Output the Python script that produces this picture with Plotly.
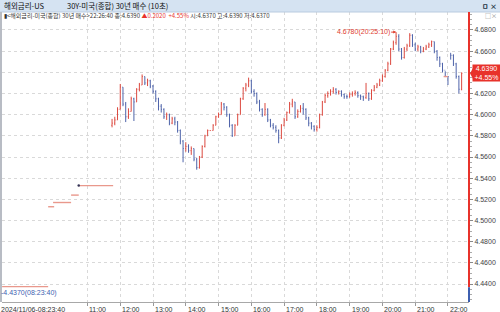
import plotly.graph_objects as go
import pandas as pd

# ---------------- data ----------------
bar_start = "2024-11-06 11:45"          # first 5-minute bar of the main session
closes = [4.592, 4.595, 4.605, 4.626, 4.610, 4.598, 4.603, 4.615, 4.612, 4.624,
          4.628, 4.636, 4.630, 4.632, 4.627, 4.622, 4.615, 4.608, 4.605, 4.598,
          4.600, 4.592, 4.596, 4.593, 4.585, 4.575, 4.568, 4.570, 4.566, 4.568,
          4.558, 4.550, 4.560, 4.570, 4.580, 4.585, 4.585, 4.590, 4.598, 4.600,
          4.610, 4.607, 4.600, 4.590, 4.580, 4.590, 4.600, 4.615, 4.625, 4.628,
          4.632, 4.622, 4.620, 4.612, 4.605, 4.600, 4.605, 4.595, 4.590, 4.588,
          4.585, 4.578, 4.590, 4.595, 4.602, 4.610, 4.612, 4.598, 4.603, 4.606,
          4.605, 4.597, 4.592, 4.589, 4.586, 4.588, 4.600, 4.612, 4.618, 4.620,
          4.622, 4.624, 4.621, 4.622, 4.619, 4.617, 4.617, 4.619, 4.620, 4.621,
          4.618, 4.617, 4.616, 4.620, 4.615, 4.623, 4.626, 4.628, 4.632, 4.636,
          4.642, 4.648, 4.662, 4.668, 4.674, 4.662, 4.654, 4.662, 4.665, 4.675,
          4.666, 4.662, 4.664, 4.660, 4.662, 4.664, 4.666, 4.669, 4.660, 4.654,
          4.648, 4.642, 4.636, 4.636, 4.656, 4.648, 4.636, 4.624, 4.639]
highs = [4.596, 4.598, 4.607, 4.629, 4.626, 4.612, 4.606, 4.617, 4.616, 4.625,
         4.630, 4.638, 4.636, 4.634, 4.633, 4.628, 4.623, 4.616, 4.610, 4.606,
         4.602, 4.601, 4.598, 4.598, 4.594, 4.586, 4.576, 4.574, 4.572, 4.570,
         4.568, 4.559, 4.561, 4.571, 4.581, 4.586, 4.585, 4.591, 4.599, 4.602,
         4.612, 4.611, 4.608, 4.601, 4.591, 4.591, 4.601, 4.616, 4.626, 4.630,
         4.635, 4.633, 4.624, 4.621, 4.614, 4.606, 4.611, 4.606, 4.596, 4.592,
         4.590, 4.586, 4.591, 4.597, 4.603, 4.612, 4.615, 4.612, 4.605, 4.609,
         4.611, 4.606, 4.598, 4.593, 4.590, 4.590, 4.601, 4.613, 4.620, 4.622,
         4.624, 4.626, 4.625, 4.623, 4.623, 4.620, 4.619, 4.621, 4.622, 4.623,
         4.622, 4.619, 4.618, 4.630, 4.621, 4.624, 4.628, 4.630, 4.634, 4.638,
         4.643, 4.650, 4.663, 4.670, 4.678, 4.676, 4.663, 4.664, 4.667, 4.677,
         4.676, 4.668, 4.666, 4.665, 4.664, 4.666, 4.668, 4.670, 4.669, 4.661,
         4.655, 4.649, 4.641, 4.636, 4.658, 4.657, 4.649, 4.637, 4.640]
lows = [4.588, 4.590, 4.595, 4.605, 4.608, 4.593, 4.596, 4.603, 4.594, 4.612,
        4.622, 4.628, 4.628, 4.627, 4.625, 4.620, 4.612, 4.604, 4.602, 4.596,
        4.595, 4.590, 4.591, 4.590, 4.583, 4.572, 4.555, 4.565, 4.564, 4.562,
        4.556, 4.548, 4.549, 4.559, 4.569, 4.580, 4.585, 4.585, 4.590, 4.597,
        4.600, 4.604, 4.598, 4.588, 4.579, 4.580, 4.590, 4.600, 4.614, 4.622,
        4.626, 4.620, 4.617, 4.610, 4.603, 4.598, 4.599, 4.593, 4.588, 4.586,
        4.583, 4.573, 4.577, 4.589, 4.594, 4.601, 4.607, 4.596, 4.597, 4.602,
        4.600, 4.595, 4.589, 4.586, 4.584, 4.584, 4.587, 4.599, 4.611, 4.616,
        4.618, 4.620, 4.619, 4.619, 4.617, 4.615, 4.615, 4.616, 4.617, 4.618,
        4.616, 4.614, 4.613, 4.615, 4.613, 4.614, 4.622, 4.625, 4.627, 4.631,
        4.635, 4.641, 4.647, 4.661, 4.666, 4.660, 4.652, 4.653, 4.660, 4.664,
        4.664, 4.660, 4.660, 4.658, 4.659, 4.661, 4.663, 4.664, 4.658, 4.651,
        4.645, 4.640, 4.636, 4.628, 4.652, 4.646, 4.634, 4.620, 4.623]
first_open = 4.590
reopen_index = 124        # bar after the 22:00 break opens fresh
reopen_value = 4.658

# sparse early prints (flat segments) and the 22:00 break
flat_start = ["2024-11-06 08:23:40", "2024-11-06 09:48", "2024-11-06 09:57",
              "2024-11-06 10:30", "2024-11-06 10:44", "2024-11-06 21:52"]
flat_end = ["2024-11-06 09:48", "2024-11-06 09:59", "2024-11-06 10:30",
            "2024-11-06 10:44", "2024-11-06 11:47", "2024-11-06 22:00"]
flat_val = [4.4375, 4.513, 4.517, 4.524, 4.533, 4.636]

hour_ticks = ["2024-11-06 %02d:00" % h for h in range(11, 23)]
hour_labels = ["%02d:00" % h for h in range(11, 23)]
y_ticks = [4.44, 4.46, 4.48, 4.50, 4.52, 4.54, 4.56, 4.58, 4.60, 4.62, 4.64, 4.66, 4.68]
y_hidden_label = 4.64      # covered by the current-price box

last_price = 4.6390
day_high, day_high_time = 4.6780, "2024-11-06 20:25:10"
day_low, day_low_time = 4.4370, "2024-11-06 08:23:40"

x_range = ["2024-11-06 08:23:30", "2024-11-06 22:38:30"]
y_range = [4.423, 4.697]

# ---------------- figure ----------------
times = pd.date_range(bar_start, periods=len(closes), freq="5min")
opens = [first_open] + closes[:-1]
opens[reopen_index] = reopen_value

RED = "#dc4a40"
BLUE = "#4f64aa"
FONT = "Liberation Sans, Noto Sans CJK KR, sans-serif"
KFONT = "Noto Sans CJK KR, sans-serif"

fig = go.Figure()

fx, fy = [], []
for s, e, v in zip(flat_start, flat_end, flat_val):
    fx += [s, e, None]
    fy += [v, v, None]
fig.add_trace(go.Scatter(x=fx, y=fy, mode="lines", line=dict(color="#e9988c", width=1.4),
                         hoverinfo="skip", showlegend=False, cliponaxis=False))
fig.add_trace(go.Scatter(x=[flat_start[4]], y=[flat_val[4]], mode="markers",
                         marker=dict(color="#333355", size=2.5), hoverinfo="skip", showlegend=False))

fig.add_trace(go.Ohlc(
    x=times, open=opens, high=highs, low=lows, close=closes,
    increasing=dict(line=dict(color=RED, width=1)),
    decreasing=dict(line=dict(color=BLUE, width=1)),
    tickwidth=0.25, showlegend=False, hoverinfo="skip"))

W_PLOT = 467.0
H_PLOT = 290.0

shapes = [
    # header bar
    dict(type="rect", xref="paper", yref="paper", x0=-2 / W_PLOT, x1=498 / W_PLOT,
         y0=1.0, y1=1 + 12 / H_PLOT, fillcolor="#d5e3f2", line=dict(width=0), layer="above"),
    dict(type="line", xref="paper", yref="paper", x0=-2 / W_PLOT, x1=498 / W_PLOT,
         y0=1.0, y1=1.0, line=dict(color="#b9cbe0", width=1)),
    # left border
    dict(type="line", xref="paper", yref="paper", x0=-1 / W_PLOT, x1=-1 / W_PLOT,
         y0=0, y1=1, line=dict(color="#b8bcc4", width=2)),
    # red / blue right-edge range line
    dict(type="line", xref="paper", yref="y", x0=1, x1=1, y0=day_low, y1=y_range[1],
         line=dict(color="#e8322b", width=2)),
    dict(type="line", xref="paper", yref="y", x0=1, x1=1, y0=y_range[0], y1=day_low,
         line=dict(color="#3d5fb0", width=2)),
    # notch of price box
    dict(type="path", xref="paper", yref="y",
         path="M %f %f L %f %f L %f %f Z" % (1 + 1 / W_PLOT, last_price, 1 + 4 / W_PLOT,
                                           last_price + 0.005, 1 + 4 / W_PLOT, last_price - 0.005),
         fillcolor="#e8322b", line=dict(width=0)),
]

annotations = [
    dict(xref="paper", yref="paper", x=0, y=1 + 6 / H_PLOT, xanchor="left", yanchor="middle",
         text="해외금리-US", showarrow=False, font=dict(family=KFONT, size=7.5, color="#111111")),
    dict(xref="paper", yref="paper", x=63 / W_PLOT, y=1 + 6 / H_PLOT, xanchor="left", yanchor="middle",
         text="30Y-미국(종합) 30년 매수 (10초)", showarrow=False,
         font=dict(family=KFONT, size=7.5, color="#111111")),
    dict(xref="paper", yref="paper", x=497 / W_PLOT, y=1 + 6 / H_PLOT, xanchor="right", yanchor="middle",
         text="<b>ㅁ ×</b>", showarrow=False, font=dict(family=KFONT, size=7, color="#223344")),
    dict(xref="paper", yref="paper", x=0, y=(290 - 3.5) / H_PLOT, xanchor="left", yanchor="middle",
         text=("▮&lt;해외금리-미국(종합) 30년 매수&gt;22:26:40 종:4.6390 "
               "<span style='color:#e8322b'>▲0.2020  +4.55%</span> 시:4.6370 고:4.6390 저:4.6370"),
         showarrow=False, font=dict(family=KFONT, size=6, color="#333333")),
    dict(xref="paper", yref="paper", x=497 / W_PLOT, y=(290 - 3.5) / H_PLOT, xanchor="right",
         yanchor="middle", text="□×", showarrow=False, font=dict(family=KFONT, size=6, color="#888888")),
    # current price box
    dict(xref="paper", yref="y", x=1 + 3 / W_PLOT, y=last_price, xanchor="left", yanchor="middle",
         text="%.4f<br>+4.55%%" % last_price, showarrow=False, bgcolor="#e8322b", borderpad=0,
         width=27, align="center", font=dict(family=FONT, size=7, color="white")),
    # day high
    dict(x=day_high_time, y=day_high, xref="x", yref="y", text="%.4f(20:25:10)" % day_high,
         showarrow=True, arrowhead=2, arrowsize=0.6, arrowwidth=1, arrowcolor="#e04030",
         ax=-33, ay=0, font=dict(family=FONT, size=7, color="#e04030")),
    # day low
    dict(x=day_low_time, y=4.4312, xref="x", yref="y", xanchor="left", yanchor="middle", xshift=-3,
         text="-%.4f(08:23:40)" % day_low, showarrow=False,
         font=dict(family=FONT, size=7, color="#4060b0")),
    # first time label
    dict(x=day_low_time, xref="x", yref="paper", y=-0.006, xanchor="left", yanchor="top", xshift=-3,
         text="2024/11/06-08:23:40", showarrow=False, font=dict(family=FONT, size=7, color="#333333")),
]
for t, lab in zip(hour_ticks, hour_labels):
    annotations.append(dict(x=t, xref="x", yref="paper", y=-0.006, xanchor="left", yanchor="top",
                            xshift=0, text=lab, showarrow=False,
                            font=dict(family=FONT, size=7, color="#333333")))

y_text = ["" if abs(v - y_hidden_label) < 1e-9 else "%.4f" % v for v in y_ticks]

fig.update_layout(
    width=500, height=312,
    margin=dict(l=2, r=31, t=12, b=10),
    paper_bgcolor="white", plot_bgcolor="white",
    showlegend=False, hovermode=False,
    shapes=shapes, annotations=annotations,
    font=dict(family=FONT, size=7, color="#444444"),
    xaxis=dict(type="date", range=x_range, rangeslider=dict(visible=False),
               tickvals=hour_ticks, showticklabels=False, ticks="outside", ticklen=3,
               tickcolor="#999999", showgrid=True, gridcolor="#d9d9d9", griddash="dot",
               gridwidth=1, showline=True, linecolor="#a8a8a8", linewidth=1,
               zeroline=False, automargin=False, fixedrange=True),
    yaxis=dict(side="right", range=y_range, tickvals=y_ticks, ticktext=y_text,
               ticks="outside", ticklen=3, tickcolor="#888888",
               minor=dict(dtick=0.005, tick0=4.44, ticks="outside", ticklen=2, tickcolor="#aaaaaa",
                          showgrid=False),
               showgrid=True, gridcolor="#d9d9d9", griddash="dot", gridwidth=1,
               zeroline=False, showline=False, automargin=False, fixedrange=True,
               tickfont=dict(family=FONT, size=7, color="#444444")),
)

fig.write_html("out.html", config={"displayModeBar": False, "staticPlot": True})
